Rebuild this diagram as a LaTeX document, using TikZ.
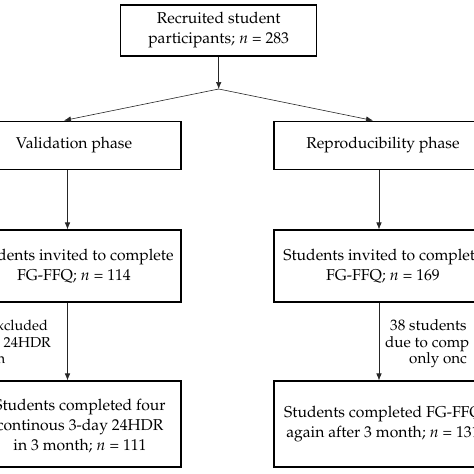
\documentclass[tikz,border=0pt]{standalone}
\usepackage[T1]{fontenc}
\usepackage{mathpazo}
\usetikzlibrary{arrows.meta}

\tikzset{
  box/.style={draw, line width=1.1pt, align=center, inner sep=0pt,
    font=\fontsize{15.7}{20}\selectfont},
  arr/.style={-{Latex[length=7pt,width=5.5pt]}, line width=0.6pt, black!85},
  note/.style={inner sep=0pt, font=\fontsize{15.2}{17}\selectfont},
}

\begin{document}
\begin{tikzpicture}[x=1pt,y=-1pt]
        \useasboundingbox (0,0) rectangle (474,474);
        \clip (0,0) rectangle (474,474);

        % Columns and branch point
        \coordinate (colL) at (67.5,0);
        \coordinate (colR) at (379,0);
        \coordinate (j) at (218.7,89);
        \coordinate (vtip) at (64,120.5);
        \coordinate (rtip) at (373,120.5);

        % Boxes
        \node[box, minimum width=196pt, minimum height=51pt] (rec) at (218.7,30.5) {Recruited student\\participants; $n$ = 283};
        \node[box, minimum width=214pt, minimum height=48pt] (val) at (74,145.5) {Validation phase};
        \node[box, minimum width=218pt, minimum height=48pt] (rep) at (383,145.5) {Reproducibility phase};
        \node[box, minimum width=214pt, minimum height=72pt] (invL) at (74,266) {Students invited to complete\\FG-FFQ; $n$ = 114};
        \node[box, minimum width=218pt, minimum height=72pt] (invR) at (383,266) {Students invited to complete\\FG-FFQ; $n$ = 169};
        \node[box, minimum width=220pt, minimum height=86pt] (doneL) at (71,424) {};
        \node[align=center, inner sep=0pt, font=\fontsize{15.7}{20}\selectfont] (doneLtxt) at (80,426) {Students completed four\\continous 3-day 24HDR\\in 3 month; $n$ = 111};
        \node[box, minimum width=218pt, minimum height=86pt] (doneR) at (383,424) {Students completed FG-FFQ\\again after 3 month; $n$ = 131};

        % Side notes
        \node[note, font=\fontsize{14.4}{17}\selectfont, anchor=base east] (noteL1) at (48,330) {xcluded};
        \node[note, font=\fontsize{14.4}{17}\selectfont, anchor=base east] (noteL2) at (51,347) {24HDR};
        \node[note, font=\fontsize{14.4}{17}\selectfont, anchor=base east] (noteL3) at (5.5,363) {n};
        \node[note, anchor=base west] (noteR1) at (390,330) {38 students};
        \node[note, anchor=base west] (noteR2) at (385,347) {due to comp};
        \node[note, anchor=base west] (noteR3) at (409,363) {only onc};

        % Arrows
        \draw[arr] (rec.south) -- (j);
        \draw[arr] (j) -- (vtip);
        \draw[arr] (j) -- (rtip);
        \draw[arr] (val.south -| colL) -- (invL.north -| colL);
        \draw[arr] (rep.south -| colR) -- (invR.north -| colR);
        \draw[arr] (invL.south -| colL) -- (doneL.north -| colL);
        \draw[arr] (invR.south -| colR) -- (doneR.north -| colR);
      \end{tikzpicture}
\end{document}
